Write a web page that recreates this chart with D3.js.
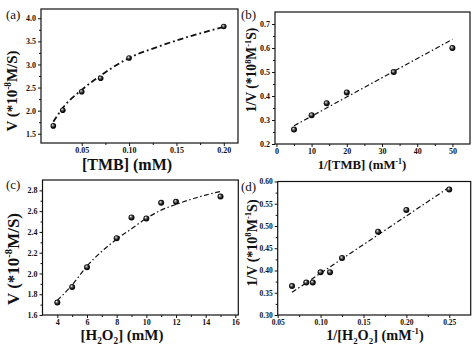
<!DOCTYPE html>
<html><head><meta charset="utf-8">
<script src="https://cdn.jsdelivr.net/npm/d3@7"></script>
<style>
html,body{margin:0;padding:0;background:#fff;}
svg{display:block;}
text{font-family:"Liberation Serif","Times New Roman",serif;fill:#111;}
</style></head>
<body>
<svg id="c" width="474" height="345"></svg>
<script>
// ---- data ----
const tmbConc = [0.02, 0.03, 0.05, 0.07, 0.10, 0.20];
const tmbRate = [1.67, 2.01, 2.41, 2.70, 3.14, 3.82];
const tmbFitX = [0.02, 0.03, 0.05, 0.07, 0.10, 0.13, 0.166, 0.20];
const tmbFitY = [1.76, 2.06, 2.45, 2.76, 3.14, 3.38, 3.62, 3.81];

const invTmb = [5, 10, 14.29, 20, 33.33, 50];
const invRateTmb = [0.26, 0.32, 0.37, 0.415, 0.50, 0.60];
const tmbLineX = [5, 50];
const tmbLineY = [0.276, 0.636];

const h2o2Conc = [4, 5, 6, 8, 9, 10, 11, 12, 15];
const h2o2Rate = [1.72, 1.87, 2.06, 2.34, 2.54, 2.53, 2.68, 2.69, 2.74];
const h2o2FitX = [4, 5, 6, 8, 9, 10, 11, 12, 14, 15];
const h2o2FitY = [1.74, 1.89, 2.07, 2.33, 2.43, 2.53, 2.61, 2.665, 2.755, 2.79];

const invH2o2 = [0.0667, 0.0833, 0.0909, 0.10, 0.111, 0.125, 0.167, 0.20, 0.25];
const invRateH2o2 = [0.365, 0.373, 0.373, 0.396, 0.396, 0.428, 0.487, 0.536, 0.582];
const h2o2LineX = [0.0667, 0.25];
const h2o2LineY = [0.351, 0.587];

const ticksA_x = [0.05, 0.10, 0.15, 0.20];
const ticksA_y = [1.5, 2.0, 2.5, 3.0, 3.5, 4.0];
const ticksB_x = [0, 10, 20, 30, 40, 50];
const ticksB_y = [0.2, 0.3, 0.4, 0.5, 0.6, 0.7];
const ticksC_x = [4, 6, 8, 10, 12, 14, 16];
const ticksC_y = [1.6, 1.8, 2.0, 2.2, 2.4, 2.6, 2.8];
const ticksD_x = [0.05, 0.10, 0.15, 0.20, 0.25];
const ticksD_y = [0.30, 0.35, 0.40, 0.45, 0.50, 0.55, 0.60];

const svg = d3.select("#c");
const defs = svg.append("defs");
const grad = defs.append("radialGradient").attr("id","ball").attr("cx","50%").attr("cy","50%").attr("r","55%").attr("fx","35%").attr("fy","32%");
grad.append("stop").attr("offset","0%").attr("stop-color","#ffffff");
grad.append("stop").attr("offset","30%").attr("stop-color","#777");
grad.append("stop").attr("offset","65%").attr("stop-color","#111");
grad.append("stop").attr("offset","100%").attr("stop-color","#000");

function mids(t){const m=[];for(let i=0;i<t.length-1;i++)m.push((t[i]+t[i+1])/2);return m;}

function addParts(el, parts, fs){
  parts.forEach(p=>{
    const ts = el.append("tspan").text(p.t);
    if(p.s==="sup"){ts.style("font-size",(fs*0.62)+"px").attr("dy",-fs*0.4);}
    else if(p.s==="sub"){ts.style("font-size",(fs*0.62)+"px").attr("dy",fs*0.25);}
    if(p.back!==undefined) ts.attr("dy", p.back*fs);
  });
}

function panel(cfg){
  const x = d3.scaleLinear().domain(cfg.xd).range([cfg.x0, cfg.x1]);
  const y = d3.scaleLinear().domain(cfg.yd).range([cfg.y1, cfg.y0]);
  const g = svg.append("g");
  const xa = d3.axisBottom(x).tickValues(cfg.xt).tickFormat(d3.format(cfg.xf)).tickSize(3).tickPadding(1.5);
  const xm = d3.axisBottom(x).tickValues(mids(cfg.xt)).tickFormat("").tickSize(2);
  const ya = d3.axisLeft(y).tickValues(cfg.yt).tickFormat(d3.format(cfg.yf)).tickSize(3).tickPadding(2);
  const ym = d3.axisLeft(y).tickValues(mids(cfg.yt)).tickFormat("").tickSize(2);
  [ [xa,"b"],[xm,"b"],[ya,"l"],[ym,"l"] ].forEach(([ax,s])=>{
    const gg = g.append("g").attr("transform", s==="b" ? `translate(0,${cfg.y1})` : `translate(${cfg.x0},0)`).call(ax);
    gg.select(".domain").remove();
    gg.selectAll("line").attr("stroke","#111").attr("stroke-width",1);
    gg.selectAll("text").style("font-family",'"Liberation Serif",serif').style("font-weight","bold").style("font-size",cfg.tkfs+"px").attr("fill","#111");
  });
  g.append("rect").attr("x",cfg.x0).attr("y",cfg.y0).attr("width",cfg.x1-cfg.x0).attr("height",cfg.y1-cfg.y0)
    .attr("fill","none").attr("stroke","#111").attr("stroke-width",1.2);
  const fit = cfg.fx.map((v,i)=>[v,cfg.fy[i]]);
  const line = d3.line().x(d=>x(d[0])).y(d=>y(d[1])).curve(d3.curveMonotoneX);
  g.append("path").attr("d", line(fit)).attr("fill","none").attr("stroke","#111")
    .attr("stroke-width",cfg.lw).attr("stroke-dasharray",cfg.dash);
  const pts = cfg.px.map((v,i)=>[v,cfg.py[i]]);
  g.selectAll("circle.p").data(pts).enter().append("circle").attr("class","p")
    .attr("cx",d=>x(d[0])).attr("cy",d=>y(d[1])).attr("r",cfg.r).attr("fill","url(#ball)");
  g.append("text").attr("x",cfg.lab[0]).attr("y",cfg.lab[1]).style("font-size","13px").text(cfg.label);
  const xt = g.append("text").attr("x",cfg.xtPos[0]).attr("y",cfg.xtPos[1]).attr("text-anchor","middle")
    .style("font-size",cfg.xtfs+"px").style("font-weight","bold");
  addParts(xt, cfg.xTitle, cfg.xtfs);
  const yt = g.append("text").attr("transform",`translate(${cfg.ytPos[0]},${cfg.ytPos[1]}) rotate(-90)`).attr("text-anchor","middle")
    .style("font-size",cfg.ytfs+"px").style("font-weight","bold");
  addParts(yt, cfg.yTitle, cfg.ytfs);
}

const vTitle = [{t:"V (*10"},{t:"-8",s:"sup"},{t:"M/S)",back:0.4}];
const invVTitle = [{t:"1/V (*10"},{t:"8",s:"sup"},{t:"M",back:0.4},{t:"-1",s:"sup"},{t:"S)",back:0.4}];

panel({x0:41,x1:238,y0:9,y1:143,xd:[0.007,0.215],yd:[1.3,4.2],xt:ticksA_x,yt:ticksA_y,xf:".2f",yf:".1f",
  fx:tmbFitX,fy:tmbFitY,px:tmbConc,py:tmbRate,lw:1.8,dash:"6,3,1.8,3",r:2.8,label:"(a)",lab:[6,19],xtfs:16,ytfs:15,tkfs:8,
  xtPos:[127,170],ytPos:[17,91],
  xTitle:[{t:"[TMB] (mM)"}], yTitle:vTitle});
panel({x0:275,x1:470,y0:12,y1:144,xd:[-0.4,55],yd:[0.2,0.75],xt:ticksB_x,yt:ticksB_y,xf:"d",yf:".1f",
  fx:tmbLineX,fy:tmbLineY,px:invTmb,py:invRateTmb,lw:1.2,dash:"5,2.5,1.5,2.5",r:3,label:"(b)",lab:[241,19],xtfs:12.8,ytfs:13.6,tkfs:8,
  xtPos:[362,169],ytPos:[256,70],
  xTitle:[{t:"1/[TMB] (mM"},{t:"-1",s:"sup"},{t:")",back:0.4}], yTitle:invVTitle});
panel({x0:42.5,x1:238.3,y0:180,y1:315,xd:[3,16.2],yd:[1.6,2.9],xt:ticksC_x,yt:ticksC_y,xf:"d",yf:".1f",
  fx:h2o2FitX,fy:h2o2FitY,px:h2o2Conc,py:h2o2Rate,lw:1.2,dash:"5,2.5,1.5,2.5",r:3,label:"(c)",lab:[6,189],xtfs:15,ytfs:17,tkfs:8,
  xtPos:[122,340],ytPos:[19,259],
  xTitle:[{t:"[H"},{t:"2",s:"sub"},{t:"O",back:-0.25},{t:"2",s:"sub"},{t:"] (mM)",back:-0.25}], yTitle:vTitle});
panel({x0:277.7,x1:470.7,y0:181.5,y1:315,xd:[0.05,0.275],yd:[0.30,0.60],xt:ticksD_x,yt:ticksD_y,xf:".2f",yf:".2f",
  fx:h2o2LineX,fy:h2o2LineY,px:invH2o2,py:invRateH2o2,lw:1.2,dash:"5,2.5,1.5,2.5",r:3,label:"(d)",lab:[241,191],xtfs:14.3,ytfs:14,tkfs:7.5,
  xtPos:[375,340],ytPos:[257,243],
  xTitle:[{t:"1/[H"},{t:"2",s:"sub"},{t:"O",back:-0.25},{t:"2",s:"sub"},{t:"] (mM",back:-0.25},{t:"-1",s:"sup"},{t:")",back:0.4}], yTitle:invVTitle});
</script>
</body></html>
